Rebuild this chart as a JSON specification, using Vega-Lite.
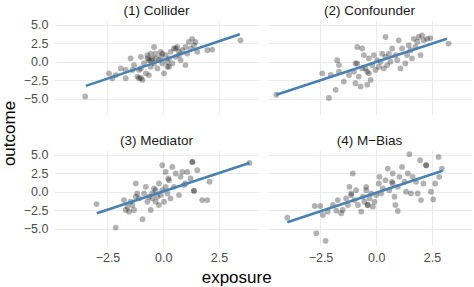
{
  "$schema": "https://vega.github.io/schema/vega-lite/v6.json",
  "background": "white",
  "padding": {"left": 1, "top": 3, "right": 1, "bottom": 2},
  "config": {
    "font": "Liberation Sans",
    "view": {"stroke": null},
    "axis": {
      "domain": false,
      "ticks": false,
      "grid": true,
      "gridColor": "#EBEBEB",
      "gridWidth": 1.1,
      "labelColor": "#4D4D4D",
      "labelFontSize": 12.5,
      "labelPadding": 6,
      "title": null
    },
    "header": {
      "labelFontSize": 13.5,
      "labelColor": "#1A1A1A",
      "labelPadding": 3
    },
    "title": {
      "fontSize": 17,
      "fontWeight": "normal",
      "color": "#000000",
      "anchor": "middle"
    },
    "concat": {"spacing": 0}
  },
  "data": {
    "values": [
      {"panel": "(1) Collider", "series": "point", "exposure": -3.5, "outcome": -4.7},
      {"panel": "(1) Collider", "series": "point", "exposure": -2.43, "outcome": -1.56},
      {"panel": "(1) Collider", "series": "point", "exposure": -2.28, "outcome": -2.23},
      {"panel": "(1) Collider", "series": "point", "exposure": -2.13, "outcome": -1.8},
      {"panel": "(1) Collider", "series": "point", "exposure": -1.9, "outcome": -0.9},
      {"panel": "(1) Collider", "series": "point", "exposure": -1.68, "outcome": -2.23},
      {"panel": "(1) Collider", "series": "point", "exposure": -1.68, "outcome": -1.1},
      {"panel": "(1) Collider", "series": "point", "exposure": -1.46, "outcome": 0.45},
      {"panel": "(1) Collider", "series": "point", "exposure": -1.38, "outcome": -1.1},
      {"panel": "(1) Collider", "series": "point", "exposure": -1.31, "outcome": -0.45},
      {"panel": "(1) Collider", "series": "point", "exposure": -1.16, "outcome": -2.0},
      {"panel": "(1) Collider", "series": "point", "exposure": -1.08, "outcome": -2.23},
      {"panel": "(1) Collider", "series": "point", "exposure": -1.08, "outcome": -1.1},
      {"panel": "(1) Collider", "series": "point", "exposure": -1.0, "outcome": 0.67},
      {"panel": "(1) Collider", "series": "point", "exposure": -1.0, "outcome": -0.9},
      {"panel": "(1) Collider", "series": "point", "exposure": -1.0, "outcome": -2.2},
      {"panel": "(1) Collider", "series": "point", "exposure": -0.93, "outcome": -2.46},
      {"panel": "(1) Collider", "series": "point", "exposure": -0.86, "outcome": -0.22},
      {"panel": "(1) Collider", "series": "point", "exposure": -0.78, "outcome": -1.56},
      {"panel": "(1) Collider", "series": "point", "exposure": -0.71, "outcome": 0.9},
      {"panel": "(1) Collider", "series": "point", "exposure": -0.71, "outcome": 0.45},
      {"panel": "(1) Collider", "series": "point", "exposure": -0.64, "outcome": 0.22},
      {"panel": "(1) Collider", "series": "point", "exposure": -0.64, "outcome": -1.8},
      {"panel": "(1) Collider", "series": "point", "exposure": -0.56, "outcome": 1.1},
      {"panel": "(1) Collider", "series": "point", "exposure": -0.56, "outcome": -0.67},
      {"panel": "(1) Collider", "series": "point", "exposure": -0.56, "outcome": 0.22},
      {"panel": "(1) Collider", "series": "point", "exposure": -0.49, "outcome": 0.45},
      {"panel": "(1) Collider", "series": "point", "exposure": -0.41, "outcome": 2.0},
      {"panel": "(1) Collider", "series": "point", "exposure": -0.41, "outcome": -0.22},
      {"panel": "(1) Collider", "series": "point", "exposure": -0.34, "outcome": 1.1},
      {"panel": "(1) Collider", "series": "point", "exposure": -0.34, "outcome": 0.45},
      {"panel": "(1) Collider", "series": "point", "exposure": -0.26, "outcome": -0.9},
      {"panel": "(1) Collider", "series": "point", "exposure": -0.19, "outcome": 0.22},
      {"panel": "(1) Collider", "series": "point", "exposure": -0.11, "outcome": 1.34},
      {"panel": "(1) Collider", "series": "point", "exposure": -0.11, "outcome": 0.67},
      {"panel": "(1) Collider", "series": "point", "exposure": -0.04, "outcome": -0.22},
      {"panel": "(1) Collider", "series": "point", "exposure": -0.04, "outcome": 1.1},
      {"panel": "(1) Collider", "series": "point", "exposure": 0.04, "outcome": -1.56},
      {"panel": "(1) Collider", "series": "point", "exposure": 0.11, "outcome": 0.9},
      {"panel": "(1) Collider", "series": "point", "exposure": 0.19, "outcome": -0.67},
      {"panel": "(1) Collider", "series": "point", "exposure": 0.19, "outcome": 0.0},
      {"panel": "(1) Collider", "series": "point", "exposure": 0.26, "outcome": 0.45},
      {"panel": "(1) Collider", "series": "point", "exposure": 0.26, "outcome": -0.67},
      {"panel": "(1) Collider", "series": "point", "exposure": 0.33, "outcome": 1.34},
      {"panel": "(1) Collider", "series": "point", "exposure": 0.41, "outcome": -0.22},
      {"panel": "(1) Collider", "series": "point", "exposure": 0.48, "outcome": 1.8},
      {"panel": "(1) Collider", "series": "point", "exposure": 0.56, "outcome": 0.67},
      {"panel": "(1) Collider", "series": "point", "exposure": 0.56, "outcome": 1.8},
      {"panel": "(1) Collider", "series": "point", "exposure": 0.63, "outcome": 2.0},
      {"panel": "(1) Collider", "series": "point", "exposure": 0.71, "outcome": 0.9},
      {"panel": "(1) Collider", "series": "point", "exposure": 0.71, "outcome": 1.34},
      {"panel": "(1) Collider", "series": "point", "exposure": 0.78, "outcome": 0.22},
      {"panel": "(1) Collider", "series": "point", "exposure": 0.86, "outcome": 1.56},
      {"panel": "(1) Collider", "series": "point", "exposure": 1.0, "outcome": -0.45},
      {"panel": "(1) Collider", "series": "point", "exposure": 1.0, "outcome": 2.0},
      {"panel": "(1) Collider", "series": "point", "exposure": 1.08, "outcome": 1.1},
      {"panel": "(1) Collider", "series": "point", "exposure": 1.15, "outcome": 2.68},
      {"panel": "(1) Collider", "series": "point", "exposure": 1.23, "outcome": 1.8},
      {"panel": "(1) Collider", "series": "point", "exposure": 1.3, "outcome": 3.1},
      {"panel": "(1) Collider", "series": "point", "exposure": 1.38, "outcome": 2.23},
      {"panel": "(1) Collider", "series": "point", "exposure": 1.45, "outcome": 2.68},
      {"panel": "(1) Collider", "series": "point", "exposure": 1.53, "outcome": 1.34},
      {"panel": "(1) Collider", "series": "point", "exposure": 1.98, "outcome": 1.56},
      {"panel": "(1) Collider", "series": "point", "exposure": 2.2, "outcome": 1.65},
      {"panel": "(1) Collider", "series": "point", "exposure": 3.47, "outcome": 2.9},
      {"panel": "(1) Collider", "series": "fit", "exposure": -3.47, "outcome": -3.26},
      {"panel": "(1) Collider", "series": "fit", "exposure": 3.44, "outcome": 3.71},

      {"panel": "(2) Confounder", "series": "point", "exposure": -4.48, "outcome": -4.46},
      {"panel": "(2) Confounder", "series": "point", "exposure": -2.42, "outcome": -1.56},
      {"panel": "(2) Confounder", "series": "point", "exposure": -2.12, "outcome": -4.9},
      {"panel": "(2) Confounder", "series": "point", "exposure": -2.04, "outcome": -1.79},
      {"panel": "(2) Confounder", "series": "point", "exposure": -1.82, "outcome": -3.8},
      {"panel": "(2) Confounder", "series": "point", "exposure": -1.75, "outcome": 0.22},
      {"panel": "(2) Confounder", "series": "point", "exposure": -1.67, "outcome": -0.45},
      {"panel": "(2) Confounder", "series": "point", "exposure": -1.67, "outcome": -1.34},
      {"panel": "(2) Confounder", "series": "point", "exposure": -1.45, "outcome": -2.68},
      {"panel": "(2) Confounder", "series": "point", "exposure": -1.22, "outcome": -1.79},
      {"panel": "(2) Confounder", "series": "point", "exposure": -1.0, "outcome": -1.34},
      {"panel": "(2) Confounder", "series": "point", "exposure": -0.93, "outcome": -2.9},
      {"panel": "(2) Confounder", "series": "point", "exposure": -0.93, "outcome": -0.22},
      {"panel": "(2) Confounder", "series": "point", "exposure": -0.85, "outcome": -0.22},
      {"panel": "(2) Confounder", "series": "point", "exposure": -0.85, "outcome": 2.0},
      {"panel": "(2) Confounder", "series": "point", "exposure": -0.78, "outcome": -2.0},
      {"panel": "(2) Confounder", "series": "point", "exposure": -0.7, "outcome": -3.35},
      {"panel": "(2) Confounder", "series": "point", "exposure": -0.63, "outcome": 1.8},
      {"panel": "(2) Confounder", "series": "point", "exposure": -0.63, "outcome": -0.9},
      {"panel": "(2) Confounder", "series": "point", "exposure": -0.55, "outcome": 0.9},
      {"panel": "(2) Confounder", "series": "point", "exposure": -0.48, "outcome": -0.9},
      {"panel": "(2) Confounder", "series": "point", "exposure": -0.4, "outcome": -3.1},
      {"panel": "(2) Confounder", "series": "point", "exposure": -0.4, "outcome": -1.34},
      {"panel": "(2) Confounder", "series": "point", "exposure": -0.33, "outcome": -1.56},
      {"panel": "(2) Confounder", "series": "point", "exposure": -0.33, "outcome": 0.45},
      {"panel": "(2) Confounder", "series": "point", "exposure": -0.25, "outcome": -2.46},
      {"panel": "(2) Confounder", "series": "point", "exposure": -0.18, "outcome": -0.45},
      {"panel": "(2) Confounder", "series": "point", "exposure": -0.1, "outcome": 0.9},
      {"panel": "(2) Confounder", "series": "point", "exposure": -0.03, "outcome": -1.1},
      {"panel": "(2) Confounder", "series": "point", "exposure": 0.04, "outcome": 0.22},
      {"panel": "(2) Confounder", "series": "point", "exposure": 0.12, "outcome": -0.67},
      {"panel": "(2) Confounder", "series": "point", "exposure": 0.19, "outcome": 0.0},
      {"panel": "(2) Confounder", "series": "point", "exposure": 0.27, "outcome": 1.1},
      {"panel": "(2) Confounder", "series": "point", "exposure": 0.34, "outcome": -0.9},
      {"panel": "(2) Confounder", "series": "point", "exposure": 0.42, "outcome": 3.35},
      {"panel": "(2) Confounder", "series": "point", "exposure": 0.42, "outcome": 0.67},
      {"panel": "(2) Confounder", "series": "point", "exposure": 0.49, "outcome": -0.45},
      {"panel": "(2) Confounder", "series": "point", "exposure": 0.57, "outcome": 1.1},
      {"panel": "(2) Confounder", "series": "point", "exposure": 0.64, "outcome": 0.0},
      {"panel": "(2) Confounder", "series": "point", "exposure": 0.72, "outcome": 1.8},
      {"panel": "(2) Confounder", "series": "point", "exposure": 0.87, "outcome": 0.9},
      {"panel": "(2) Confounder", "series": "point", "exposure": 0.94, "outcome": 0.22},
      {"panel": "(2) Confounder", "series": "point", "exposure": 1.01, "outcome": 2.9},
      {"panel": "(2) Confounder", "series": "point", "exposure": 1.09, "outcome": -0.9},
      {"panel": "(2) Confounder", "series": "point", "exposure": 1.16, "outcome": 1.8},
      {"panel": "(2) Confounder", "series": "point", "exposure": 1.31, "outcome": -0.22},
      {"panel": "(2) Confounder", "series": "point", "exposure": 1.39, "outcome": 0.9},
      {"panel": "(2) Confounder", "series": "point", "exposure": 1.46, "outcome": 2.23},
      {"panel": "(2) Confounder", "series": "point", "exposure": 1.54, "outcome": 1.56},
      {"panel": "(2) Confounder", "series": "point", "exposure": 1.61, "outcome": 0.45},
      {"panel": "(2) Confounder", "series": "point", "exposure": 1.69, "outcome": 3.1},
      {"panel": "(2) Confounder", "series": "point", "exposure": 1.76, "outcome": 2.0},
      {"panel": "(2) Confounder", "series": "point", "exposure": 1.84, "outcome": 2.68},
      {"panel": "(2) Confounder", "series": "point", "exposure": 1.91, "outcome": 3.35},
      {"panel": "(2) Confounder", "series": "point", "exposure": 1.99, "outcome": 0.9},
      {"panel": "(2) Confounder", "series": "point", "exposure": 2.06, "outcome": 3.57},
      {"panel": "(2) Confounder", "series": "point", "exposure": 2.13, "outcome": 2.9},
      {"panel": "(2) Confounder", "series": "point", "exposure": 2.28, "outcome": 3.1},
      {"panel": "(2) Confounder", "series": "point", "exposure": 2.43, "outcome": 3.2},
      {"panel": "(2) Confounder", "series": "point", "exposure": 3.25, "outcome": 2.46},
      {"panel": "(2) Confounder", "series": "fit", "exposure": -4.48, "outcome": -4.46},
      {"panel": "(2) Confounder", "series": "fit", "exposure": 3.17, "outcome": 3.12},

      {"panel": "(3) Mediator", "series": "point", "exposure": -2.99, "outcome": -1.66},
      {"panel": "(3) Mediator", "series": "point", "exposure": -2.13, "outcome": -4.84},
      {"panel": "(3) Mediator", "series": "point", "exposure": -1.76, "outcome": -1.12},
      {"panel": "(3) Mediator", "series": "point", "exposure": -1.68, "outcome": -2.47},
      {"panel": "(3) Mediator", "series": "point", "exposure": -1.6, "outcome": -2.02},
      {"panel": "(3) Mediator", "series": "point", "exposure": -1.53, "outcome": -2.69},
      {"panel": "(3) Mediator", "series": "point", "exposure": -1.46, "outcome": -1.35},
      {"panel": "(3) Mediator", "series": "point", "exposure": -1.38, "outcome": -1.79},
      {"panel": "(3) Mediator", "series": "point", "exposure": -1.31, "outcome": -2.47},
      {"panel": "(3) Mediator", "series": "point", "exposure": -1.23, "outcome": 1.12},
      {"panel": "(3) Mediator", "series": "point", "exposure": -1.23, "outcome": -0.67},
      {"panel": "(3) Mediator", "series": "point", "exposure": -1.16, "outcome": -0.22},
      {"panel": "(3) Mediator", "series": "point", "exposure": -1.08, "outcome": -0.9},
      {"panel": "(3) Mediator", "series": "point", "exposure": -0.93, "outcome": -3.72},
      {"panel": "(3) Mediator", "series": "point", "exposure": -0.86, "outcome": -0.22},
      {"panel": "(3) Mediator", "series": "point", "exposure": -0.78, "outcome": 0.67},
      {"panel": "(3) Mediator", "series": "point", "exposure": -0.71, "outcome": -1.35},
      {"panel": "(3) Mediator", "series": "point", "exposure": -0.64, "outcome": -0.67},
      {"panel": "(3) Mediator", "series": "point", "exposure": -0.56, "outcome": -2.47},
      {"panel": "(3) Mediator", "series": "point", "exposure": -0.49, "outcome": -0.22},
      {"panel": "(3) Mediator", "series": "point", "exposure": -0.49, "outcome": -0.9},
      {"panel": "(3) Mediator", "series": "point", "exposure": -0.41, "outcome": 0.45},
      {"panel": "(3) Mediator", "series": "point", "exposure": -0.34, "outcome": -1.35},
      {"panel": "(3) Mediator", "series": "point", "exposure": -0.34, "outcome": 0.22},
      {"panel": "(3) Mediator", "series": "point", "exposure": -0.26, "outcome": -0.67},
      {"panel": "(3) Mediator", "series": "point", "exposure": -0.19, "outcome": -1.79},
      {"panel": "(3) Mediator", "series": "point", "exposure": -0.19, "outcome": 1.12},
      {"panel": "(3) Mediator", "series": "point", "exposure": -0.11, "outcome": -0.45},
      {"panel": "(3) Mediator", "series": "point", "exposure": -0.04, "outcome": 3.59},
      {"panel": "(3) Mediator", "series": "point", "exposure": -0.04, "outcome": 0.22},
      {"panel": "(3) Mediator", "series": "point", "exposure": 0.04, "outcome": -1.35},
      {"panel": "(3) Mediator", "series": "point", "exposure": 0.11, "outcome": 2.69},
      {"panel": "(3) Mediator", "series": "point", "exposure": 0.11, "outcome": 0.67},
      {"panel": "(3) Mediator", "series": "point", "exposure": 0.19, "outcome": -0.22},
      {"panel": "(3) Mediator", "series": "point", "exposure": 0.23, "outcome": 1.79},
      {"panel": "(3) Mediator", "series": "point", "exposure": 0.26, "outcome": 1.57},
      {"panel": "(3) Mediator", "series": "point", "exposure": 0.33, "outcome": -0.9},
      {"panel": "(3) Mediator", "series": "point", "exposure": 0.41, "outcome": 3.36},
      {"panel": "(3) Mediator", "series": "point", "exposure": 0.48, "outcome": 0.67},
      {"panel": "(3) Mediator", "series": "point", "exposure": 0.56, "outcome": 2.47},
      {"panel": "(3) Mediator", "series": "point", "exposure": 0.71, "outcome": -0.45},
      {"panel": "(3) Mediator", "series": "point", "exposure": 0.78, "outcome": 2.02},
      {"panel": "(3) Mediator", "series": "point", "exposure": 0.86, "outcome": 2.69},
      {"panel": "(3) Mediator", "series": "point", "exposure": 0.93, "outcome": 0.9},
      {"panel": "(3) Mediator", "series": "point", "exposure": 1.0, "outcome": 1.12},
      {"panel": "(3) Mediator", "series": "point", "exposure": 1.08, "outcome": 2.69},
      {"panel": "(3) Mediator", "series": "point", "exposure": 1.23, "outcome": 1.79},
      {"panel": "(3) Mediator", "series": "point", "exposure": 1.31, "outcome": 4.04},
      {"panel": "(3) Mediator", "series": "point", "exposure": 1.31, "outcome": 4.04},
      {"panel": "(3) Mediator", "series": "point", "exposure": 1.38, "outcome": 0.13},
      {"panel": "(3) Mediator", "series": "point", "exposure": 1.38, "outcome": 0.13},
      {"panel": "(3) Mediator", "series": "point", "exposure": 1.53, "outcome": 2.91},
      {"panel": "(3) Mediator", "series": "point", "exposure": 1.75, "outcome": -1.12},
      {"panel": "(3) Mediator", "series": "point", "exposure": 1.98, "outcome": -1.12},
      {"panel": "(3) Mediator", "series": "point", "exposure": 2.08, "outcome": 1.35},
      {"panel": "(3) Mediator", "series": "point", "exposure": 3.87, "outcome": 3.9},
      {"panel": "(3) Mediator", "series": "fit", "exposure": -2.98, "outcome": -2.91},
      {"panel": "(3) Mediator", "series": "fit", "exposure": 3.87, "outcome": 3.9},

      {"panel": "(4) M\u2212Bias", "series": "point", "exposure": -3.99, "outcome": -3.5},
      {"panel": "(4) M\u2212Bias", "series": "point", "exposure": -2.76, "outcome": -1.93},
      {"panel": "(4) M\u2212Bias", "series": "point", "exposure": -2.69, "outcome": -5.6},
      {"panel": "(4) M\u2212Bias", "series": "point", "exposure": -2.51, "outcome": -1.93},
      {"panel": "(4) M\u2212Bias", "series": "point", "exposure": -2.39, "outcome": -3.14},
      {"panel": "(4) M\u2212Bias", "series": "point", "exposure": -2.27, "outcome": -6.64},
      {"panel": "(4) M\u2212Bias", "series": "point", "exposure": -2.17, "outcome": -2.69},
      {"panel": "(4) M\u2212Bias", "series": "point", "exposure": -1.94, "outcome": -1.79},
      {"panel": "(4) M\u2212Bias", "series": "point", "exposure": -1.79, "outcome": -2.56},
      {"panel": "(4) M\u2212Bias", "series": "point", "exposure": -1.72, "outcome": -1.12},
      {"panel": "(4) M\u2212Bias", "series": "point", "exposure": -1.57, "outcome": -2.91},
      {"panel": "(4) M\u2212Bias", "series": "point", "exposure": -1.5, "outcome": -2.47},
      {"panel": "(4) M\u2212Bias", "series": "point", "exposure": -1.35, "outcome": -0.9},
      {"panel": "(4) M\u2212Bias", "series": "point", "exposure": -1.27, "outcome": -1.79},
      {"panel": "(4) M\u2212Bias", "series": "point", "exposure": -1.2, "outcome": 0.67},
      {"panel": "(4) M\u2212Bias", "series": "point", "exposure": -1.12, "outcome": -0.22},
      {"panel": "(4) M\u2212Bias", "series": "point", "exposure": -1.12, "outcome": -0.45},
      {"panel": "(4) M\u2212Bias", "series": "point", "exposure": -1.05, "outcome": 2.47},
      {"panel": "(4) M\u2212Bias", "series": "point", "exposure": -0.97, "outcome": -1.12},
      {"panel": "(4) M\u2212Bias", "series": "point", "exposure": -0.9, "outcome": 0.22},
      {"panel": "(4) M\u2212Bias", "series": "point", "exposure": -0.82, "outcome": -1.79},
      {"panel": "(4) M\u2212Bias", "series": "point", "exposure": -0.67, "outcome": -2.69},
      {"panel": "(4) M\u2212Bias", "series": "point", "exposure": -0.6, "outcome": -0.67},
      {"panel": "(4) M\u2212Bias", "series": "point", "exposure": -0.53, "outcome": -1.35},
      {"panel": "(4) M\u2212Bias", "series": "point", "exposure": -0.45, "outcome": 0.67},
      {"panel": "(4) M\u2212Bias", "series": "point", "exposure": -0.45, "outcome": 0.22},
      {"panel": "(4) M\u2212Bias", "series": "point", "exposure": -0.38, "outcome": -1.79},
      {"panel": "(4) M\u2212Bias", "series": "point", "exposure": -0.38, "outcome": -1.79},
      {"panel": "(4) M\u2212Bias", "series": "point", "exposure": -0.3, "outcome": -0.9},
      {"panel": "(4) M\u2212Bias", "series": "point", "exposure": -0.23, "outcome": -0.22},
      {"panel": "(4) M\u2212Bias", "series": "point", "exposure": -0.15, "outcome": -2.02},
      {"panel": "(4) M\u2212Bias", "series": "point", "exposure": -0.08, "outcome": -1.35},
      {"panel": "(4) M\u2212Bias", "series": "point", "exposure": 0.0, "outcome": -0.45},
      {"panel": "(4) M\u2212Bias", "series": "point", "exposure": 0.12, "outcome": 1.12},
      {"panel": "(4) M\u2212Bias", "series": "point", "exposure": 0.15, "outcome": 2.02},
      {"panel": "(4) M\u2212Bias", "series": "point", "exposure": 0.22, "outcome": -0.22},
      {"panel": "(4) M\u2212Bias", "series": "point", "exposure": 0.3, "outcome": 0.45},
      {"panel": "(4) M\u2212Bias", "series": "point", "exposure": 0.42, "outcome": 1.57},
      {"panel": "(4) M\u2212Bias", "series": "point", "exposure": 0.52, "outcome": 3.14},
      {"panel": "(4) M\u2212Bias", "series": "point", "exposure": 0.59, "outcome": 0.22},
      {"panel": "(4) M\u2212Bias", "series": "point", "exposure": 0.71, "outcome": 1.35},
      {"panel": "(4) M\u2212Bias", "series": "point", "exposure": 0.74, "outcome": 1.12},
      {"panel": "(4) M\u2212Bias", "series": "point", "exposure": 0.74, "outcome": 2.47},
      {"panel": "(4) M\u2212Bias", "series": "point", "exposure": 0.82, "outcome": -0.67},
      {"panel": "(4) M\u2212Bias", "series": "point", "exposure": 0.86, "outcome": -1.79},
      {"panel": "(4) M\u2212Bias", "series": "point", "exposure": 0.97, "outcome": -2.6},
      {"panel": "(4) M\u2212Bias", "series": "point", "exposure": 0.97, "outcome": 0.67},
      {"panel": "(4) M\u2212Bias", "series": "point", "exposure": 1.04, "outcome": 2.02},
      {"panel": "(4) M\u2212Bias", "series": "point", "exposure": 1.16, "outcome": 3.36},
      {"panel": "(4) M\u2212Bias", "series": "point", "exposure": 1.27, "outcome": 1.35},
      {"panel": "(4) M\u2212Bias", "series": "point", "exposure": 1.34, "outcome": 0.0},
      {"panel": "(4) M\u2212Bias", "series": "point", "exposure": 1.42, "outcome": 2.47},
      {"panel": "(4) M\u2212Bias", "series": "point", "exposure": 1.49, "outcome": 5.07},
      {"panel": "(4) M\u2212Bias", "series": "point", "exposure": 1.56, "outcome": -0.22},
      {"panel": "(4) M\u2212Bias", "series": "point", "exposure": 1.64, "outcome": 2.02},
      {"panel": "(4) M\u2212Bias", "series": "point", "exposure": 1.79, "outcome": 1.35},
      {"panel": "(4) M\u2212Bias", "series": "point", "exposure": 1.86, "outcome": -0.22},
      {"panel": "(4) M\u2212Bias", "series": "point", "exposure": 1.97, "outcome": 4.26},
      {"panel": "(4) M\u2212Bias", "series": "point", "exposure": 2.01, "outcome": -1.12},
      {"panel": "(4) M\u2212Bias", "series": "point", "exposure": 2.12, "outcome": 1.12},
      {"panel": "(4) M\u2212Bias", "series": "point", "exposure": 2.24, "outcome": 3.59},
      {"panel": "(4) M\u2212Bias", "series": "point", "exposure": 2.24, "outcome": 3.59},
      {"panel": "(4) M\u2212Bias", "series": "point", "exposure": 2.46, "outcome": 0.0},
      {"panel": "(4) M\u2212Bias", "series": "point", "exposure": 2.56, "outcome": -1.03},
      {"panel": "(4) M\u2212Bias", "series": "point", "exposure": 2.65, "outcome": 1.12},
      {"panel": "(4) M\u2212Bias", "series": "point", "exposure": 2.8, "outcome": 4.71},
      {"panel": "(4) M\u2212Bias", "series": "point", "exposure": 2.83, "outcome": 2.02},
      {"panel": "(4) M\u2212Bias", "series": "point", "exposure": 2.95, "outcome": 3.14},
      {"panel": "(4) M\u2212Bias", "series": "fit", "exposure": -3.99, "outcome": -4.12},
      {"panel": "(4) M\u2212Bias", "series": "fit", "exposure": 2.98, "outcome": 2.83}
    ]
  },
  "title": {"text": "exposure", "orient": "bottom", "offset": 6},
  "vconcat": [
    {
      "title": {"text": "outcome", "orient": "left", "offset": 4},
      "facet": {
        "field": "panel",
        "type": "nominal",
        "title": null,
        "header": {"labelOrient": "top"}
      },
      "columns": 2,
      "spacing": {"column": 8, "row": 18},
      "spec": {
        "width": 205,
        "height": 95,
        "encoding": {
          "x": {
            "field": "exposure",
            "type": "quantitative",
            "scale": {"domain": [-4.9, 4.3], "nice": false, "zero": false},
            "axis": {"values": [-2.5, 0, 2.5], "format": ".1f"}
          },
          "y": {
            "field": "outcome",
            "type": "quantitative",
            "scale": {"domain": [-7.2, 5.65], "nice": false, "zero": false},
            "axis": {"values": [-5, -2.5, 0, 2.5, 5], "format": ".1f"}
          }
        },
        "layer": [
          {
            "transform": [{"filter": "datum.series === 'point'"}],
            "mark": {"type": "circle", "size": 34, "color": "#000000", "opacity": 0.3}
          },
          {
            "transform": [{"filter": "datum.series === 'fit'"}],
            "mark": {"type": "line", "color": "#4682B4", "strokeWidth": 2.6}
          }
        ]
      }
    }
  ]
}
